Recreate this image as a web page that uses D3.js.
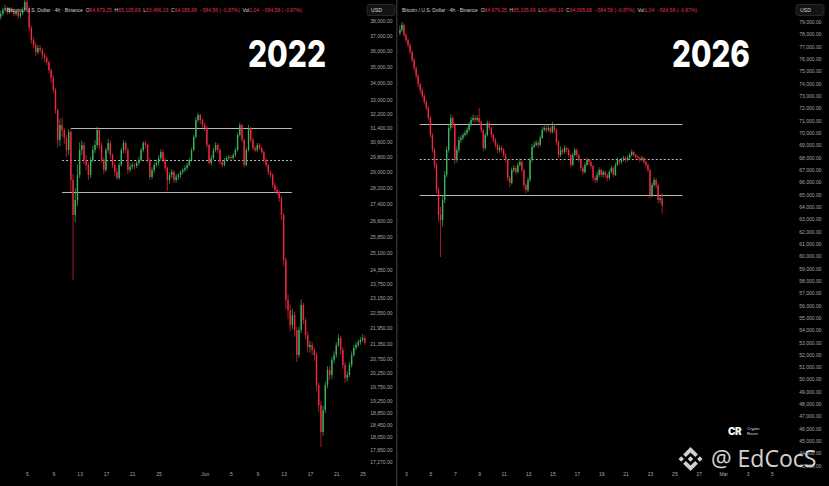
<!DOCTYPE html>
<html><head><meta charset="utf-8">
<script src="https://cdn.jsdelivr.net/npm/d3@7"></script>
<style>html,body{margin:0;padding:0;background:#000;overflow:hidden}</style>
</head><body>
<svg id="c" width="829" height="486"></svg>
<script>
// ---------------- DATA ----------------
// 2022 panel: 8h candles starting 2022-05-01 00:00 UTC
const left2022Start = Date.UTC(2022, 4, 1);
const left2022StepHours = 8;
const left2022FirstOpen = 38300;
const left2022Close = [38480,38750,38890,38620,38820,38690,38480,38620,38340,38550,38750,39310,38890,37530,36730,36400,35950,36210,36080,35760,35570,35310,34810,34320,33590,32410,30720,31550,31270,30830,30170,31160,28600,26860,27590,28850,30170,30440,29640,29370,28850,29640,30170,30440,31270,30440,29640,29110,30170,30550,29900,29370,29010,28700,29370,30170,30550,30170,29110,29270,29370,29320,29480,29640,30170,30550,30440,29640,28750,29110,29370,29480,29740,30060,29640,29220,28600,28850,29010,28600,28750,28850,29010,29110,29220,29370,29640,30170,30880,31830,32120,31830,31550,31380,30440,29480,29740,30170,30440,30170,29530,29370,29640,29740,29800,29740,29900,30170,30990,31550,30720,29370,30170,31380,30720,30280,30170,30440,30280,30060,29640,29370,29010,28850,28340,28090,27990,27690,26860,24780,23070,22660,22060,22460,21870,20910,21870,22870,22260,21670,21210,21290,21100,20910,19820,19120,18220,18950,19820,20360,20180,20730,20910,21290,21560,21100,20540,20070,20180,20540,20910,21180,21290,21400,21480,21560,21370];
const left2022High = [38700,38900,39100,39000,38950,38950,38800,38750,38700,38700,38950,39700,39900,39000,37700,36900,36600,36400,36400,36200,35900,35700,35400,34900,34500,33700,32500,31900,32000,31400,31000,31300,31300,28900,28200,29400,30600,30700,30600,29900,29500,29800,30400,30700,31450,31350,30600,29800,30300,30800,30700,30000,29500,29200,29500,30300,30700,30650,30300,29450,29500,29500,29600,29800,30300,30650,30650,30500,29750,29250,29500,29650,29900,30200,30200,29750,29300,29000,29150,29100,28900,28950,29100,29200,29350,29500,29750,30300,31000,32000,32250,32200,31900,31700,31500,30500,29900,30300,30600,30550,30250,29600,29750,29850,29900,29900,30000,30300,31100,31700,31600,30800,30300,31550,31450,30850,30400,30550,30550,30350,30150,29750,29450,29100,28950,28450,28250,28100,27800,26950,24900,23300,22900,22700,22600,22000,22000,23100,22950,22350,21800,21450,21400,21200,21000,19900,19250,19100,19950,20500,20500,20850,21050,21400,21700,21650,21200,20650,20300,20650,21050,21300,21400,21500,21600,21700,21650];
const left2022Low = [38100,38350,38600,38450,38500,38550,38300,38350,38150,38200,38400,38650,38700,37300,36500,36200,35700,35800,35900,35500,35300,35100,34600,34000,33400,32200,30300,30400,30900,30500,29800,29900,28000,23900,26500,27300,28700,29900,29400,29100,28600,28700,29500,30000,30300,30200,29500,28900,29000,30000,29700,29200,28800,28600,28600,29300,30000,30000,28900,29000,29150,29150,29200,29350,29550,30050,30250,29500,28600,28650,28950,29250,29350,29600,29500,29050,28050,28400,28700,28450,28450,28600,28700,28900,29000,29100,29300,29550,30100,30800,31700,31600,31400,31200,30300,29400,29350,29650,30050,30000,29400,29250,29300,29550,29650,29600,29650,29800,30100,30900,30600,29250,29300,30100,30600,30150,30050,30050,30150,29950,29500,29250,28850,28700,28200,27950,27850,27500,26600,24500,22700,22300,21800,21900,21600,20650,20800,21750,22100,21500,21000,21000,20900,20700,19600,18900,17740,18100,18850,19700,20000,20050,20600,20800,21200,20950,20400,19900,19950,20100,20450,20850,21100,21200,21300,21400,21300];

// 2026 panel: 4h candles starting 2026-02-02 12:00 UTC
const right2026Start = Date.UTC(2026, 1, 2, 12);
const right2026StepHours = 4;
const right2026FirstOpen = 78100;
const right2026Close = [78350,78760,77950,77540,77130,76570,75920,75270,74620,73970,73480,73000,72510,72020,71210,69830,68610,67400,65370,63340,62930,64560,66590,68610,70400,71210,70640,67800,68610,69430,69590,69830,69990,70240,70640,71050,71210,71050,71210,70890,70240,68780,69830,70810,70400,69830,69430,69020,68610,68780,68610,68210,67800,66340,65940,66990,67150,66830,67400,67640,66990,65770,65370,66180,67800,68860,69020,69180,69020,69590,70240,70400,70240,70400,70070,70560,70240,69260,68210,68610,68450,68780,68610,68210,67400,68210,68610,68210,67800,67150,66830,67400,67800,67640,67320,66340,66180,66590,66990,66590,66830,66590,66340,66830,67150,66590,67400,67800,67640,67800,67970,67800,67970,68210,68450,68210,68050,67970,67800,67970,67640,67400,66990,64960,65770,66180,65770,64560,64680,64096];
const right2026High = [78700,79000,78900,78100,77700,77300,76700,76100,75400,74800,74100,73700,73200,72700,72200,71400,70000,68800,67600,65600,64000,64900,66900,68900,70700,71500,71400,70800,68900,69700,69800,70000,70200,70450,70900,71300,71500,71400,71450,72020,71000,70300,70000,71000,70950,70500,69950,69600,69200,69000,68950,68750,68350,67900,66500,67200,67400,67300,67600,67900,67800,67100,65900,66400,68000,69100,69300,69400,69350,69800,70500,70600,70600,70700,70500,70900,70700,70350,69400,68900,68750,69000,68900,68750,68300,68400,68800,68750,68300,67900,67300,67600,68000,67900,67800,67400,66500,66800,67200,67100,67000,66950,66700,67000,67350,67250,67600,68000,67900,68000,68150,68100,68150,68400,68650,68550,68350,68200,68100,68150,68050,67750,67500,67100,65950,66400,66300,65900,64900,65106];
const right2026Low = [77900,78200,77800,77300,76900,76400,75700,75000,74400,73700,73200,72800,72300,71800,71000,69600,68400,67100,65100,62800,59930,62400,64300,66400,68400,70200,70400,67500,67600,68400,69200,69400,69700,69800,70100,70500,70900,70800,70900,70700,70000,68500,68600,69700,70200,69600,69200,68800,68400,68400,68400,68000,67600,66100,65600,65800,66800,66600,66700,67300,66800,65500,65100,65200,66000,67600,68700,68900,68800,68900,69500,70100,70000,70100,69900,69950,70000,69000,68000,68050,68250,68300,68400,68000,67200,67300,68100,68000,67600,66900,66600,66700,67300,67400,67100,66100,65950,66000,66400,66400,66400,66350,66100,66200,66700,66400,66500,67300,67450,67500,67700,67600,67700,67850,68100,68050,67900,67800,67600,67700,67500,67200,66800,64700,64800,65600,65500,64300,64300,63466];

// Range levels [price, from, to, dashed]
const left2022Levels = [[31380,"2022-05-11T16:00Z","2022-06-14T06:00Z",false],[29640,"2022-05-10T08:00Z","2022-06-14T06:00Z",true],[27990,"2022-05-10T08:00Z","2022-06-14T06:00Z",false]];
const right2026Levels = [[70720,"2026-02-04T03:00Z","2026-02-25T16:00Z",false],[67860,"2026-02-04T03:00Z","2026-02-25T16:00Z",true],[65000,"2026-02-04T03:00Z","2026-02-25T16:00Z",false]];

// Axis ticks
const left2022YTicks = [38000,37000,36000,35000,34000,33000,32200,31400,30600,29800,29000,28200,27400,26600,25850,25100,24350,23750,23150,22550,21950,21350,20750,20250,19750,19250,18850,18450,18050,17650,17270];
const right2026YTicks = [79000,78000,77000,76000,75000,74000,73000,72000,71000,70000,69000,68000,67000,66000,65000,64000,63000,62000,61000,60000,59000,58000,57000,56000,55000,54000,53000,52000,51000,50000,49000,48000,47000,46000,45000,44000,43000];
const left2022XTickDates = ["2022-05-05","2022-05-09","2022-05-13","2022-05-17","2022-05-21","2022-05-25","2022-06-01","2022-06-05","2022-06-09","2022-06-13","2022-06-17","2022-06-21","2022-06-25"];
const left2022XTickLabels = ["5","9","13","17","21","25","Jun","5","9","13","17","21","25"];
const right2026XTickDates = ["2026-02-03","2026-02-05","2026-02-07","2026-02-09","2026-02-11","2026-02-13","2026-02-15","2026-02-17","2026-02-19","2026-02-21","2026-02-23","2026-02-25","2026-02-27","2026-03-01","2026-03-03","2026-03-05"];
const right2026XTickLabels = ["3","5","7","9","11","13","15","17","19","21","23","25","27","Mar","3","5"];

// Header legend
const headerParts = [["Bitcoin / U.S. Dollar · 4h · Binance  ","g"],["O","g"],["64,679.25","r"],["  H","g"],["65,105.69","r"],["  L","g"],["63,466.19","r"],["  C","g"],["64,095.68","r"],["  −584.58 (−0.87%)","r"],["  Vol","g"],["1.04","r"],["  −584.58 (−0.87%)","r"]];
const panelTitles = ["2022","2026"];

// ---------------- DRAW ----------------
const RED = "#f0283f", GREEN = "#3cb35a", AXIS = "#a6a9b1";
const FONT = '"Liberation Sans", Arial, sans-serif';
const svg = d3.select("#c");
svg.append("rect").attr("width",829).attr("height",486).attr("fill","#000");

function buildCandles(closes, highs, lows, firstOpen, start, stepH){
  return closes.map((c,i)=>({t:new Date(start + i*stepH*3600e3), o: i ? closes[i-1] : firstOpen, h: highs[i], l: lows[i], c}));
}

function panel(cfg){
  const {id, x, y, data, levels, bodyW, clip} = cfg;
  svg.append("clipPath").attr("id","clip"+id).append("rect")
     .attr("x",clip[0]).attr("y",clip[1]).attr("width",clip[2]).attr("height",clip[3]);
  const g = svg.append("g").attr("clip-path",`url(#clip${id})`);
  g.selectAll("line.lvl").data(levels).join("line").attr("class","lvl")
    .attr("x1",d=>x(new Date(d[1]))).attr("x2",d=>x(new Date(d[2])))
    .attr("y1",d=>Math.round(y(d[0]))+0.5).attr("y2",d=>Math.round(y(d[0]))+0.5)
    .attr("stroke",d=>d[3]?"#bdbdbd":"#b8b8b8").attr("stroke-width",1)
    .attr("stroke-dasharray",d=>d[3]?"2,2":null);
  g.selectAll("line.w").data(data).join("line").attr("class","w")
    .attr("x1",d=>x(d.t)).attr("x2",d=>x(d.t))
    .attr("y1",d=>y(d.h)).attr("y2",d=>y(d.l))
    .attr("stroke",d=>d.c>=d.o?GREEN:RED).attr("stroke-width",0.7);
  g.selectAll("rect.b").data(data).join("rect").attr("class","b")
    .attr("x",d=>x(d.t)-bodyW/2).attr("width",bodyW)
    .attr("y",d=>y(Math.max(d.o,d.c)))
    .attr("height",d=>Math.max(0.8, Math.abs(y(d.o)-y(d.c))))
    .attr("fill",d=>d.c>=d.o?GREEN:RED);
}

const xL = d3.scaleUtc().domain([new Date("2022-05-05"), new Date("2022-06-25")]).range([27, 362.6]);
const yL = d3.scaleLog().domain([17270, 38000]).range([462, 21]);
const xR = d3.scaleUtc().domain([new Date("2026-02-03"), new Date("2026-03-05")]).range([406, 772]);
const yR = d3.scaleLinear().domain([45000, 79000]).range([441, 22]);

const leftData = buildCandles(left2022Close, left2022High, left2022Low, left2022FirstOpen, left2022Start, left2022StepHours);
const rightData = buildCandles(right2026Close, right2026High, right2026Low, right2026FirstOpen, right2026Start, right2026StepHours);

panel({id:"L", x:xL, y:yL, data:leftData, levels:left2022Levels, bodyW:1.4, clip:[0,0,366,468]});
panel({id:"R", x:xR, y:yR, data:rightData, levels:right2026Levels, bodyW:1.4, clip:[398,0,385,468]});

svg.append("line").attr("x1",396.8).attr("x2",396.8).attr("y1",0).attr("y2",486).attr("stroke","#3a3a3a").attr("stroke-width",1.2);

function yAxis(scale, ticks, xpos){
  const ax = d3.axisLeft(scale).tickValues(ticks).tickSize(0).tickPadding(0).tickFormat(d3.format(",.2f"));
  const g = svg.append("g").attr("transform",`translate(${xpos},0)`).call(ax);
  g.select(".domain").remove();
  g.attr("font-family",FONT).attr("font-size",5);
  g.selectAll("text").attr("fill",AXIS);
}
yAxis(yL, left2022YTicks, 392.5);
yAxis(yR, right2026YTicks, 821.5);

function xAxis(scale, dates, labels){
  const ax = d3.axisBottom(scale).tickValues(dates.map(d=>new Date(d))).tickSize(0).tickPadding(0).tickFormat((d,i)=>labels[i]);
  const g = svg.append("g").attr("transform","translate(0,472.5)").call(ax);
  g.select(".domain").remove();
  g.attr("font-family",FONT).attr("font-size",5);
  g.selectAll("text").attr("fill",AXIS);
}
xAxis(xL, left2022XTickDates, left2022XTickLabels);
xAxis(xR, right2026XTickDates, right2026XTickLabels);

[[367,371],[796,800]].forEach(([bx,tx])=>{
  svg.append("rect").attr("x",bx).attr("y",4.5).attr("width",28).attr("height",11).attr("rx",2)
     .attr("fill","#141414").attr("stroke","#2e2e2e").attr("stroke-width",0.8);
  svg.append("text").attr("x",tx).attr("y",11.8).attr("font-family",FONT).attr("font-size",5.2)
     .attr("fill","#d8d8d8").text("USD");
});

[7, 402].forEach(hx=>{
  const t = svg.append("text").attr("x",hx).attr("y",11.6).attr("font-family",FONT).attr("font-size",5)
     .style("white-space","pre");
  headerParts.forEach(p=>t.append("tspan").attr("fill",p[1]==="r"?"#e0334a":"#d0d0d0").text(p[0]));
});

[[287,panelTitles[0]],[711,panelTitles[1]]].forEach(([cx,txt])=>{
  svg.append("text").attr("x",cx-39).attr("y",67)
     .attr("font-family","Inter, 'Open Sans', sans-serif").attr("font-weight",800).attr("font-size",37)
     .attr("textLength",78).attr("lengthAdjust","spacingAndGlyphs")
     .attr("fill","#fff").text(txt);
});

svg.append("text").attr("x",728).attr("y",435).attr("font-family","Inter, sans-serif").attr("font-weight",900)
   .attr("font-size",10).attr("fill","#f2f2f2").attr("letter-spacing",-0.5).text("CR");
svg.append("text").attr("x",747).attr("y",429.5).attr("font-family",FONT).attr("font-size",4.2).attr("fill","#dcdcdc").text("Crypto");
svg.append("text").attr("x",747).attr("y",435).attr("font-family",FONT).attr("font-size",4.2).attr("fill","#dcdcdc").text("Rover");

const bl = svg.append("g").attr("transform","translate(678.5,447) scale(0.19)").attr("fill","#e2e2e2").attr("opacity",0.92);
["M38.73 53.2l24.59-24.58 24.6 24.6 14.3-14.31L63.32 0 24.43 38.9 38.73 53.2z",
 "M0 63.31l14.3-14.31 14.31 14.31-14.31 14.3z",
 "M38.73 73.42l24.59 24.59 24.6-24.6 14.31 14.29-38.9 38.91-38.91-38.88-.02-.02 14.33-14.29z",
 "M98.01 63.31l14.3-14.31 14.31 14.3-14.31 14.31z",
 "M77.83 63.3l-14.51-14.52-10.73 10.73-1.24 1.23-2.54 2.54-.02.02.02.02 14.51 14.5 14.51-14.51.01-.01-.01-.01z"]
 .forEach(p=>bl.append("path").attr("d",p));
svg.append("text").attr("x",711).attr("y",467).attr("font-family","'Open Sans', 'Noto Sans', sans-serif")
   .attr("font-size",23).attr("fill","#e4e4e4").attr("opacity",0.92).text("@ EdCocS");
</script>
</body></html>
